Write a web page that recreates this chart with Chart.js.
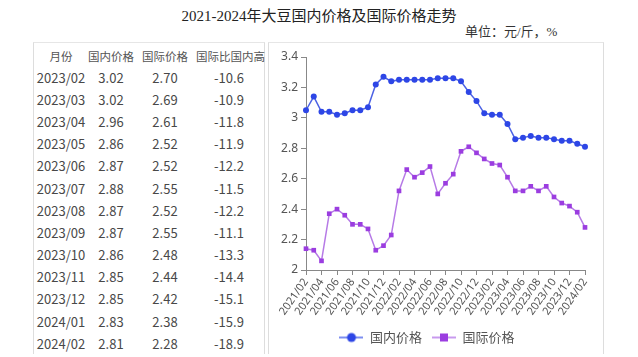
<!DOCTYPE html>
<html>
<head>
<meta charset="utf-8">
<script src="https://cdn.jsdelivr.net/npm/chart.js@4/dist/chart.umd.min.js"></script>
<style>
  body{margin:0;width:638px;height:357px;background:#fff;overflow:hidden;position:relative;font-family:"Noto Sans CJK SC","Noto Sans",sans-serif;}
  #title{position:absolute;left:0;top:4px;width:638px;text-align:center;font-size:15px;color:#222;font-family:"Liberation Serif","Noto Sans CJK SC",serif;}
  #unit{position:absolute;left:465px;top:21px;font-size:13px;color:#333;font-family:"Liberation Serif","Noto Sans CJK SC",serif;}
  #tablebox{position:absolute;left:33px;top:42px;width:230px;height:311px;border-left:1px solid #ddd;border-right:1px solid #ddd;border-top:1px solid #e6e6e6;}
  #tbl{border-collapse:collapse;table-layout:fixed;position:absolute;left:0;top:2px;width:228px;}
  #tbl td,#tbl th{padding:0;height:22.2px;font-weight:normal;color:#484848;white-space:nowrap;overflow:visible;text-align:center;}
  #tbl th{font-size:11.5px;height:21px;color:#555;}
  #tbl td{font-size:13px;}
  #chartbox{position:absolute;left:268px;top:42px;width:334px;height:311px;border-left:1px solid #ddd;border-right:1px solid #ddd;border-top:1px solid #e6e6e6;}
</style>
</head>
<body>
<div id="title">2021-2024年大豆国内价格及国际价格走势</div>
<div id="unit">单位：元/斤，%</div>
<div id="tablebox"><table id="tbl"></table></div>
<div id="chartbox"><canvas id="chart" width="334" height="311"></canvas></div>
<script>
// DATA
const months = [
  '2021/02','2021/03','2021/04','2021/05','2021/06','2021/07','2021/08','2021/09','2021/10','2021/11','2021/12',
  '2022/01','2022/02','2022/03','2022/04','2022/05','2022/06','2022/07','2022/08','2022/09','2022/10','2022/11','2022/12',
  '2023/01','2023/02','2023/03','2023/04','2023/05','2023/06','2023/07','2023/08','2023/09','2023/10','2023/11','2023/12',
  '2024/01','2024/02'
];
const domestic = [3.05,3.14,3.04,3.04,3.02,3.03,3.05,3.05,3.07,3.22,3.27,3.24,3.25,3.25,3.25,3.25,3.25,3.26,3.26,3.26,3.24,3.17,3.11,
  3.03,3.02,3.02,2.96,2.86,2.87,2.88,2.87,2.87,2.86,2.85,2.85,2.83,2.81];
const international = [2.14,2.13,2.06,2.37,2.40,2.36,2.30,2.30,2.27,2.13,2.16,2.23,2.52,2.66,2.61,2.64,2.68,2.50,2.57,2.63,2.78,2.81,2.77,
  2.73,2.70,2.69,2.61,2.52,2.52,2.55,2.52,2.55,2.48,2.44,2.42,2.38,2.28];

// TABLE
const tableHeader = ['月份','国内价格','国际价格','国际比国内高'];
const tableMonths = ['2023/02','2023/03','2023/04','2023/05','2023/06','2023/07','2023/08','2023/09','2023/10','2023/11','2023/12','2024/01','2024/02'];
const tableDomestic = ['3.02','3.02','2.96','2.86','2.87','2.88','2.87','2.87','2.86','2.85','2.85','2.83','2.81'];
const tableInternational = ['2.70','2.69','2.61','2.52','2.52','2.55','2.52','2.55','2.48','2.44','2.42','2.38','2.28'];
const tableDiff = ['-10.6','-10.9','-11.8','-11.9','-12.2','-11.5','-12.2','-11.1','-13.3','-14.4','-15.1','-15.9','-18.9'];

const blue = '#2d46e6', blueLine = '#4c62e4';
const purple = '#9b3de0', purpleLine = '#b67ae6';

// build table
const widths = [54,46,62,66];
const tbl = document.getElementById('tbl');
let h = '<tr>';
tableHeader.forEach((t,i)=>{ h += '<th style="width:'+widths[i]+'px">'+t+'</th>'; });
h += '</tr>';
tableMonths.forEach((m,i)=>{
  h += '<tr><td>'+m+'</td><td>'+tableDomestic[i]+'</td><td>'+tableInternational[i]+'</td><td>'+tableDiff[i]+'</td></tr>';
});
tbl.innerHTML = h;

// legend markers: line + point
function legendIcon(color, lineColor, shape){
  const c = document.createElement('canvas');
  c.width = 24; c.height = 12;
  const g = c.getContext('2d');
  g.strokeStyle = lineColor; g.lineWidth = 2;
  g.beginPath(); g.moveTo(0,6); g.lineTo(24,6); g.stroke();
  g.fillStyle = color;
  if(shape==='circle'){ g.beginPath(); g.arc(12,6,4.5,0,Math.PI*2); g.fill(); }
  else { g.fillRect(8,2,8,8); }
  return c;
}
const icons = [legendIcon(blue,'#7d8ff0','circle'), legendIcon(purple,'#c89aee','rect')];

const chart = new Chart(document.getElementById('chart'),{
  type:'line',
  data:{
    labels:months,
    datasets:[
      {label:'国内价格',data:domestic,borderColor:blueLine,backgroundColor:blue,borderWidth:1.5,
       pointStyle:'circle',pointRadius:3,pointBorderWidth:0,tension:0},
      {label:'国际价格',data:international,borderColor:purpleLine,backgroundColor:purple,borderWidth:1.5,
       pointStyle:'rect',pointRadius:3.3,pointBorderWidth:0,tension:0}
    ]
  },
  options:{
    responsive:false,
    animation:false,
    layout:{padding:{left:0,right:18,top:14,bottom:0}},
    plugins:{
      tooltip:{enabled:false},
      legend:{
        position:'bottom',
        labels:{
          usePointStyle:true,
          pointStyleWidth:24,
          boxHeight:12,
          padding:10,
          color:'#555',
          font:{size:13,family:'"Noto Sans CJK SC", sans-serif'},
          generateLabels:(ch)=>{
            const items = Chart.defaults.plugins.legend.labels.generateLabels(ch);
            items.forEach((it,i)=>{ it.pointStyle = icons[i]; });
            return items;
          }
        }
      }
    },
    scales:{
      x:{
        offset:false,
        grid:{drawOnChartArea:false,drawTicks:true,tickLength:5,color:'#888'},
        border:{color:'#888'},
        ticks:{
          autoSkip:false,minRotation:55,maxRotation:55,padding:1,
          color:'#555',font:{size:11,family:'"Noto Sans", sans-serif'},
          callback:function(v,i){ return i%2===0 ? months[i] : null; }
        },
        afterFit:(s)=>{ s.height = 51; }
      },
      y:{
        min:2,max:3.4,
        grid:{drawOnChartArea:false,drawTicks:true,tickLength:5,color:'#888'},
        border:{color:'#888'},
        ticks:{stepSize:0.2,color:'#555',font:{size:12,family:'"Noto Sans", sans-serif'},padding:3,
          callback:(v)=>String(Number(v.toFixed(1)))},
        afterFit:(s)=>{ s.width = 37; }
      }
    }
  }
});
</script>
</body>
</html>
